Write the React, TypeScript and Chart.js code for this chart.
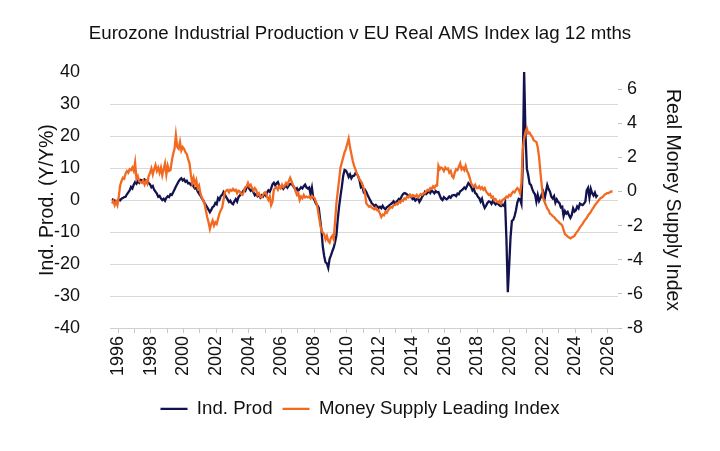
import React, { useEffect, useRef } from "react";
import { Chart, registerables } from "chart.js";

Chart.register(...registerables);

const START_YEAR = 1996;
const TITLE = "Eurozone Industrial Production v EU Real AMS Index lag 12 mths";
const LEFT_TITLE = "Ind. Prod. (Y/Y%)";
const RIGHT_TITLE = "Real Money Supply Index";
const SERIES_NAMES = ["Ind. Prod", "Money Supply Leading Index"];

// Eurozone industrial production, Y/Y %, monthly from Jan 1996
const indProd: number[] = [
  0.3, 0.1, -0.2, -0.4, -0.6, 0.2, -0.1, 0.4, 0.6, 0.9, 1.0, 1.8,
  2.4, 3.0, 4.1, 3.6, 4.8, 5.6, 5.1, 5.9, 5.4, 6.3, 6.2, 5.8,
  6.4, 5.9, 6.2, 5.3, 4.9, 4.0, 4.4, 3.2, 2.6, 2.0, 1.0, 1.3,
  0.5, 0.0, 0.4, -0.2, 0.7, 1.2, 0.9, 1.8, 1.6, 2.4, 3.3, 4.2,
  5.0, 5.8, 6.4, 6.8, 6.1, 6.5, 5.7, 6.0, 5.2, 5.3, 4.7, 4.9,
  4.2, 3.6, 3.8, 2.7, 2.0, 1.4, 0.6, 0.0, -0.9, -1.6, -2.3, -3.0,
  -3.8, -3.1, -2.2, -1.9, -0.9, -1.3, 0.6, 0.1, 1.2, 1.6, 2.5, 1.7,
  0.9, 0.2, -0.6, -0.2, -1.0, -1.3, -0.4, 0.3, -0.5, 0.9, 1.4, 2.0,
  2.5, 3.1, 2.8, 3.9, 4.5, 3.5, 2.9, 3.3, 2.4, 1.5, 1.9, 1.2,
  1.6, 0.8, 1.5, 1.1, 2.0, 1.4, 2.3, 3.0, 2.6, 3.6, 4.9, 5.4,
  4.6, 5.2, 5.6, 4.4, 3.8, 4.3, 3.5, 4.1, 4.6, 3.9, 4.5, 5.0,
  5.1, 4.4, 3.9, 3.2, 3.7, 2.9, 3.4, 4.0, 3.6, 4.3, 4.8, 3.9,
  3.6, 3.9, 1.8, 3.8, 0.6, -0.1, -1.2, -1.7, -2.4, -6.0, -9.5, -14.6,
  -17.5, -19.5, -19.8, -21.2, -18.4, -17.3, -16.0, -14.9, -13.2, -11.0, -6.0, -2.0,
  1.2, 4.2, 7.6, 9.4, 9.2, 8.4, 7.2, 8.0, 6.8, 7.5, 7.6, 8.4,
  8.2, 7.4, 6.1, 4.0, 4.3, 2.6, 3.2, 2.5, 1.5, 0.6, -0.2, -1.0,
  -1.4, -1.9, -1.5, -2.0, -2.4, -2.1, -2.6, -1.8, -2.5, -2.9, -2.3, -2.0,
  -1.6, -1.3, -0.9, -0.4, -1.1, -0.6, -0.2, 0.4, 0.1, 1.2, 1.9, 2.2,
  2.0, 1.7, 1.2, 1.5, 0.9, 0.3, 0.6, -0.2, 0.2, 0.6, -0.6, 0.1,
  1.0, 1.6, 2.5, 1.9, 2.3, 2.9, 2.2, 3.0, 2.6, 2.1, 2.8, 2.4,
  2.5, 1.4, 0.4, 0.0, 0.9, 0.5, 0.2, 0.6, 1.1, 0.7, 1.4, 1.5,
  1.6, 1.2, 2.0, 1.8, 2.7, 3.0, 3.4, 3.9, 3.5, 4.4, 5.3, 4.8,
  4.1, 3.0, 3.6, 2.2, 1.9, 1.0, 0.6, -0.5, 0.4, -1.4, -2.5, -1.8,
  -0.9, -0.4, -0.6, -1.2, -0.3, -0.9, -1.4, -0.8, -1.3, -1.7, -1.9, -1.5,
  -1.8, -0.8, -12.5, -28.8, -20.5, -11.6, -6.5, -6.2, -5.0, -3.2, -0.8, 0.4,
  0.2, -1.2, 11.0, 40.0, 20.5, 9.8, 7.8, 5.1, 4.7, 3.4, 2.4, 1.8,
  -0.5, 1.6, -0.3, 0.6, 1.8, 2.6, 0.3, 2.5, 4.7, 3.4, 2.6, 1.0,
  0.5, 1.2, -0.8, 0.2, -0.6, -1.0, -2.3, -2.1, -5.0, -3.5, -4.2, -3.7,
  -4.8, -5.6, -4.7, -2.6, -3.6, -3.2, -2.0, -2.6, -1.1, -1.4, -1.6, -1.1,
  -0.5, 3.0, 3.8, 0.8, 3.5, 2.1, 1.4, 2.3, 1.0, 1.6,
];

// EU real money supply leading index (lag 12 months), monthly from Jan 1996
const moneySupply: number[] = [
  -0.7, -0.55, -0.8, -0.6, -0.8, -0.3, 0.35, 0.6, 0.8, 0.75, 1.05, 1.2,
  1.1, 1.3, 1.25, 1.4, 1.2, 1.7, 0.75, 0.9, 0.6, 0.55, 0.5, 0.65,
  0.4, 0.6, 0.45, 0.9, 1.1, 1.35, 1.0, 1.3, 1.55, 1.2, 1.4, 1.1,
  1.4, 0.95, 1.3, 1.65, 1.0, 1.5, 1.2, 1.25, 1.8, 2.2, 2.5, 3.3,
  2.6, 2.5, 2.9, 2.4, 2.6, 2.5, 2.3, 2.2, 1.9, 1.65, 1.0, 0.5,
  0.8, 0.4, 0.65, 0.2, 0.35, -0.1, -0.35, -0.5, -0.7, -1.1, -1.5, -1.8,
  -2.2, -1.9, -1.7, -2.0, -1.8, -1.9, -1.6, -1.3, -1.1, -0.95, -0.5, -0.05,
  0.05, 0.1, -0.05, 0.1, 0.05, 0.15, 0.05, 0.1, -0.1, 0.05, 0.0, -0.15,
  -0.2, 0.0, 0.25, 0.3, 0.5, 0.3, 0.4, 0.2, 0.05, 0.2, 0.1, -0.2,
  -0.1, -0.3, -0.35, -0.2, -0.1, -0.05, -0.3, -0.5, -0.3, -0.8, -0.6, 0.1,
  0.2, 0.25, 0.1, 0.3, 0.2, 0.4, 0.25, 0.35, 0.5, 0.4, 0.6, 0.8,
  0.6, 0.4, 0.25, 0.0, -0.2, -0.1, -0.5, -0.3, -0.4, -0.2, -0.35, -0.3,
  -0.35, -0.3, -0.4, -0.25, -0.35, -0.4, -0.6, -0.9, -1.4, -1.9, -2.3, -2.4,
  -2.5, -2.8, -2.6, -2.9, -3.0, -2.7, -2.6, -2.8, -1.8, -0.7, 0.0, 0.7,
  1.4, 1.7, 2.0, 2.3, 2.5, 2.8, 3.1, 2.6, 2.2, 1.8, 1.5, 1.3,
  1.05, 0.9, 0.7, 0.6, 0.45, 0.2, -0.1, -0.7, -0.8, -0.9, -0.85, -0.95,
  -1.0, -1.05, -0.95, -1.1, -1.1, -1.3, -1.5, -1.35, -1.4, -1.2, -1.25, -1.1,
  -1.0, -0.9, -0.95, -0.8, -0.8, -0.7, -0.75, -0.6, -0.65, -0.5, -0.55, -0.4,
  -0.45, -0.3, -0.35, -0.2, -0.3, -0.2, -0.25, -0.3, -0.2, -0.35, -0.25, -0.15,
  -0.2, -0.1, -0.1, 0.0, 0.1, 0.05, 0.2, 0.15, 0.3, 0.2, 0.35, 0.35,
  1.5, 1.3, 1.4, 1.35, 1.2, 1.4, 1.3, 1.35, 1.1, 1.2, 0.9, 0.8,
  1.1, 1.3, 1.25, 1.45, 1.65, 1.3, 1.4, 1.25, 1.5, 1.2, 1.05, 0.8,
  0.5, 0.35, 0.3, 0.4, 0.2, 0.2, 0.3, 0.15, 0.25, 0.1, 0.2, 0.0,
  -0.1, -0.2, -0.15, -0.35, -0.3, -0.5, -0.45, -0.6, -0.65, -0.55, -0.7, -0.5,
  -0.45, -0.4, -0.3, -0.35, -0.2, -0.25, -0.1, 0.0, -0.05, 0.1, 0.2, 0.1,
  -0.1, 0.5, 2.5, 3.1, 3.5, 3.7, 3.4, 3.45, 3.3, 3.2, 3.0, 2.95,
  2.9, 2.6, 2.0, 1.1, 0.3, -0.4, -0.6, -0.8, -1.0, -1.1, -1.3, -1.35,
  -1.45, -1.5, -1.6, -1.7, -1.75, -1.85, -1.9, -2.0, -2.25, -2.5, -2.55, -2.65,
  -2.7, -2.75, -2.7, -2.65, -2.6, -2.45, -2.35, -2.25, -2.1, -2.0, -1.9, -1.75,
  -1.65, -1.55, -1.4, -1.3, -1.2, -1.05, -0.95, -0.8, -0.7, -0.6, -0.5, -0.4,
  -0.35, -0.3, -0.2, -0.15, -0.1, -0.1, -0.05, 0.0, 0.0,
];

const tickYears: number[] = [
  1996, 1997, 1998, 1999, 2000, 2001, 2002, 2003, 2004, 2005, 2006,
  2007, 2008, 2009, 2010, 2011, 2012, 2013, 2014, 2015, 2016, 2017,
  2018, 2019, 2020, 2021, 2022, 2023, 2024, 2025, 2026,
];
const rightTicks: number[] = [-8, -6, -4, -2, 0, 2, 4, 6];

const FONT_FAMILY = "'Liberation Sans', Arial, sans-serif";
const NAVY = "#12124f";
const ORANGE = "#f26a21";
const TEXT = "#111111";
const LABEL_SHIFT = 0.38;

export default function App() {
  const canvasRef = useRef<HTMLCanvasElement | null>(null);

  useEffect(() => {
    const canvas = canvasRef.current;
    if (!canvas) return;
    const font = { family: FONT_FAMILY, size: 18, weight: "normal" as const };
    const bigFont = { family: FONT_FAMILY, size: 18.67, weight: "normal" as const };
    const axisTitleFont = { family: FONT_FAMILY, size: 19.5, weight: "normal" as const };

    const chart = new Chart(canvas, {
      type: "line",
      data: {
        datasets: [
          {
            label: SERIES_NAMES[0],
            data: indProd.map((v, i) => ({ x: START_YEAR + i / 12, y: v })),
            borderColor: NAVY,
            backgroundColor: NAVY,
            borderWidth: 2.3,
            pointRadius: 0,
            tension: 0,
            yAxisID: "y",
            order: 2,
          },
          {
            label: SERIES_NAMES[1],
            data: moneySupply.map((v, i) => ({ x: START_YEAR + i / 12, y: v })),
            borderColor: ORANGE,
            backgroundColor: ORANGE,
            borderWidth: 2.3,
            pointRadius: 0,
            tension: 0,
            yAxisID: "y1",
            order: 1,
          },
        ],
      },
      options: {
        responsive: false,
        animation: false,
        layout: { padding: { left: 0, right: 0, top: 0, bottom: 22.7 } },
        plugins: {
          title: {
            display: true,
            text: TITLE,
            color: TEXT,
            font: bigFont,
            padding: { top: 22.3, bottom: 27.3 },
          },
          legend: {
            position: "bottom",
            labels: {
              usePointStyle: true,
              pointStyle: "line",
              pointStyleWidth: 27,
              color: TEXT,
              font: bigFont,
              padding: 10,
              sort: (a: any, b: any) => a.datasetIndex - b.datasetIndex,
            },
          },
          tooltip: { enabled: false },
        },
        scales: {
          x: {
            type: "linear",
            min: 1995.88,
            max: 2027,
            afterBuildTicks: (s: any) => {
              s.ticks = tickYears.map((y) => ({ value: y + LABEL_SHIFT }));
            },
            afterFit: (s: any) => {
              s.height = 61.6;
            },
            ticks: {
              autoSkip: false,
              minRotation: 90,
              maxRotation: 90,
              padding: 3,
              color: TEXT,
              font,
              callback: (v: any) => {
                const y = Math.round(Number(v) - LABEL_SHIFT);
                return y % 2 === 0 ? String(y) : "";
              },
            },
            grid: { drawOnChartArea: false, drawTicks: true, tickLength: 5, color: "#c8c8c8" },
            border: { display: true, color: "#d0d0d0" },
          },
          y: {
            position: "left",
            min: -40,
            max: 40,
            afterFit: (s: any) => {
              s.width = 110;
            },
            ticks: { stepSize: 10, padding: 30, color: TEXT, font },
            grid: {
              drawTicks: false,
              color: (ctx: any) => (ctx.tick && ctx.tick.value === 40 ? "rgba(0,0,0,0)" : "#d9d9d9"),
            },
            border: { display: false },
            title: {
              display: true,
              text: LEFT_TITLE,
              color: TEXT,
              font: axisTitleFont,
              padding: { top: 35.5, bottom: 0 },
            },
          },
          y1: {
            position: "right",
            min: -8,
            max: 7,
            afterBuildTicks: (s: any) => {
              s.ticks = rightTicks.map((v) => ({ value: v }));
            },
            afterFit: (s: any) => {
              s.width = 102;
            },
            ticks: { padding: 5, color: TEXT, font },
            grid: { drawOnChartArea: false, drawTicks: true, tickLength: 4, color: "#bfbfbf" },
            border: { display: false },
            title: {
              display: true,
              text: RIGHT_TITLE,
              color: TEXT,
              font: axisTitleFont,
              padding: { top: 36.3, bottom: 0 },
            },
          },
        },
      },
    });
    return () => chart.destroy();
  }, []);

  return (
    <div style={{ position: "absolute", left: 0, top: 0, width: 720, height: 451, background: "#fff" }}>
      <canvas ref={canvasRef} width={720} height={451} style={{ display: "block" }} />
    </div>
  );
}
